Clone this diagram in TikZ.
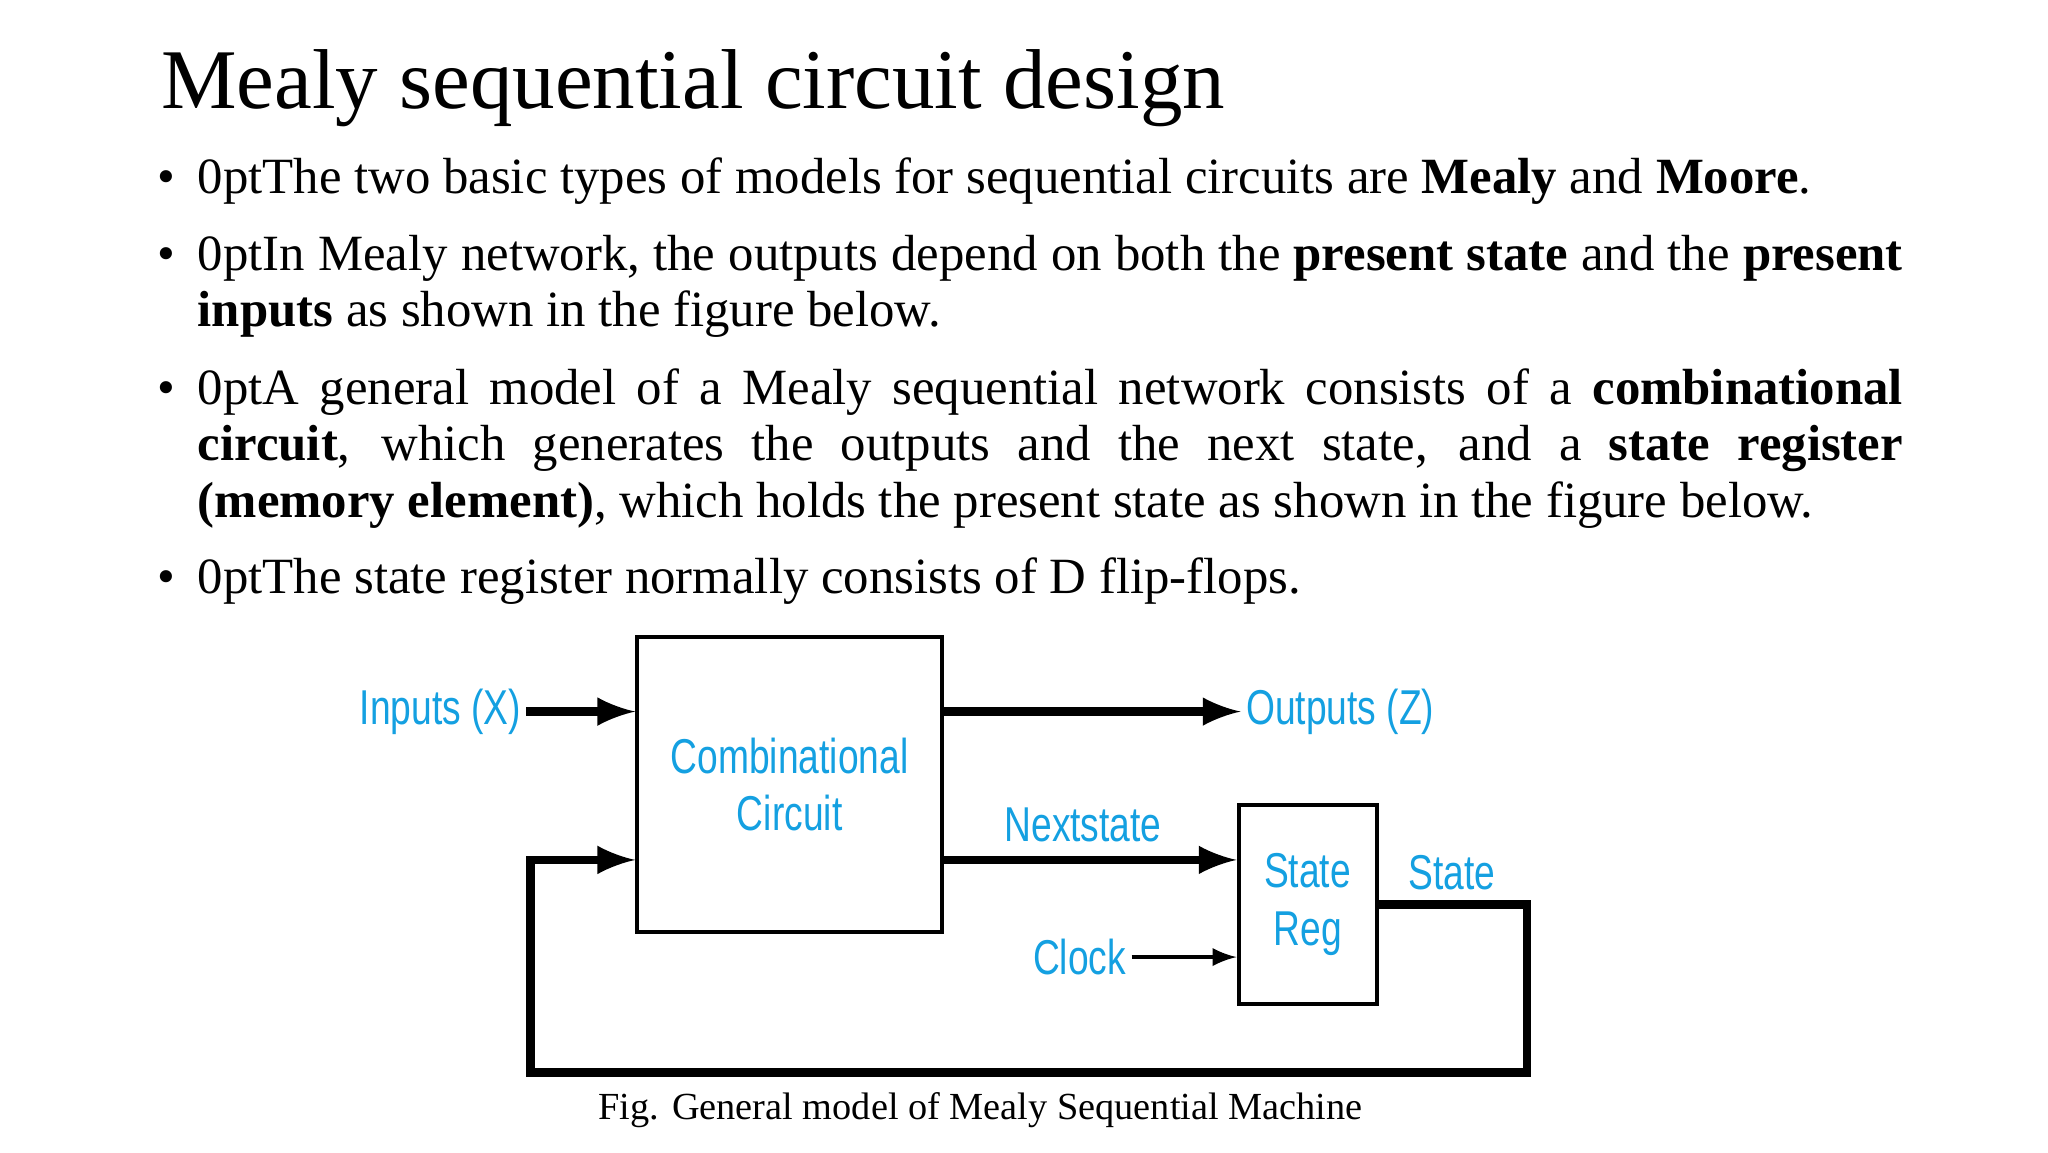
\documentclass[tikz,border=0pt]{standalone}
\usepackage{fontspec}
\setmainfont{Liberation Serif}
\newfontfamily\figfont{Liberation Sans}[FakeStretch=0.76]
\usetikzlibrary{positioning}
\definecolor{labcyan}{RGB}{20,160,225}
\begin{document}
\begin{tikzpicture}[
      x=0.01cm,y=-0.01cm,
      >=latex,
      para/.style={anchor=base west,inner sep=0pt,text width=12.98cm,align=justify,
        font=\fontsize{11}{12.2}\selectfont\hyphenpenalty=10000},
      dot/.style={anchor=base west,inner sep=0pt,font=\fontsize{11}{12.2}\selectfont},
      block/.style={draw,line width=0.85pt,inner sep=0pt,align=center,
        font=\figfont\fontsize{10.6}{12.5}\selectfont,text=labcyan},
      lab/.style={inner sep=1pt,font=\figfont\fontsize{10.6}{12}\selectfont,text=labcyan},
      bus/.style={line width=1.8pt,->},
    ]
    \useasboundingbox (0,0) rectangle (1560,877.5);
    % heading and text
    \node[anchor=base west,inner sep=0pt,font=\fontsize{18.4}{20}\selectfont] (title) at (122,83) {Mealy sequential circuit design};
    \foreach \y in {147,206,308,452} \node[dot] at (119,\y) {\textbullet};
    \node[para] (b1) at (150,147) {The two basic types of models for sequential circuits are \textbf{Mealy} and \textbf{Moore}.};
    \node[para] (b2) at (150,206) {In Mealy network, the outputs depend on both the \textbf{present state} and the \textbf{present inputs} as shown in the figure below.};
    \node[para] (b3) at (150,308) {A general model of a Mealy sequential network consists of a \textbf{combinational}\linebreak \textbf{circuit}, which generates the outputs and the next state, and a \textbf{state register}\linebreak \textbf{(memory element)}, which holds the present state as shown in the figure below.};
    \node[para] (b4) at (150,452) {The state register normally consists of D flip-flops.};
    % blocks
    \node[block,minimum width=2.32cm,minimum height=2.24cm] (comb) at (601.5,597.5) {Combinational\\Circuit};
    \node[block,minimum width=1.05cm,minimum height=1.51cm] (reg) at (996,689) {State\\Reg};
    % labels
    \node[lab,anchor=east] (in) at (401,542) {Inputs (X)};
    \node[lab,anchor=west] (out) at (945,542) {Outputs (Z)};
    \node[lab] (next) at (825,628) {Nextstate};
    \node[lab,anchor=east] (clk) at (862,729) {Clock};
    \node[lab] (st) at (1106,665) {State};
    \coordinate (fb) at (1163,817);
    % connectors
    \draw[bus] (in.east) -- (comb.west |- in.east);
    \draw[bus] (comb.east |- out.west) -- (out.west);
    \draw[bus] (comb.east |- 0,655) -- (reg.west |- 0,655);
    \draw[->,line width=0.8pt] (clk.east) -- (reg.west |- clk.east);
    \draw[bus] (reg.east |- 0,689) -| (fb) -| (404,655) -- (comb.west |- 0,655);
    \node[anchor=base,inner sep=0pt,font=\fontsize{8.3}{10}\selectfont] (cap) at (747,853) {Fig. General model of Mealy Sequential Machine};
  \end{tikzpicture}
\end{document}
